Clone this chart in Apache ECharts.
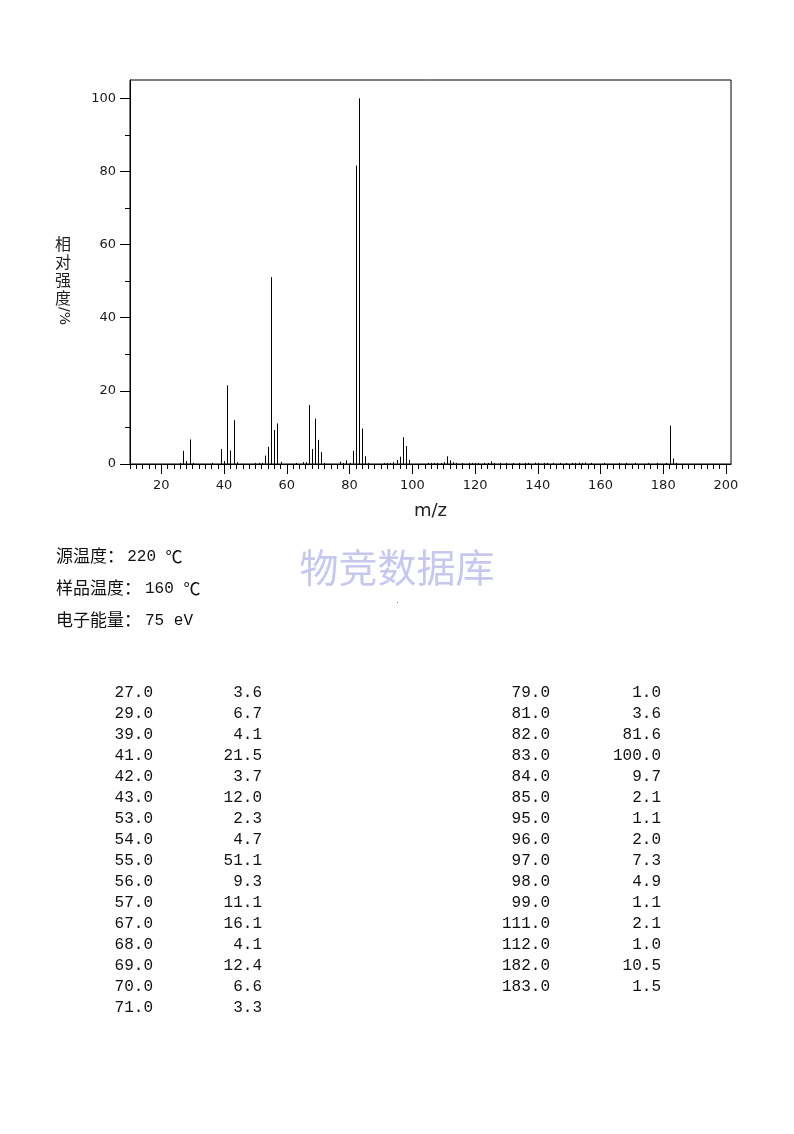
<!DOCTYPE html>
<html><head><meta charset="utf-8">
<script src="https://cdn.jsdelivr.net/npm/echarts@6/dist/echarts.min.js"></script>
<style>html,body{margin:0;padding:0;background:#fff}#c{width:794px;height:1134px}</style>
</head><body><div id="c"></div>
<script>
// Peak m/z values and relative intensities (%)
const mz = [26,27,28,29,30,36,39,40,41,42,43,44,50,51,52,53,54,55,56,57,58,63,65,66,67,68,69,70,71,72,
  77,78,79,80,81,82,83,84,85,86,91,92,93,94,95,96,97,98,99,105,106,107,108,109,110,111,112,113,114,
  116,118,119,120,121,123,124,125,126,128,130,132,134,136,137,139,140,142,143,145,147,149,151,152,153,
  154,155,157,161,166,168,171,175,178,181,182,183,184];
const intensity = [0.3,3.6,0.8,6.7,0.3,0.3,4.1,0.8,21.5,3.7,12.0,0.5,0.3,0.3,0.3,2.3,4.7,51.1,9.3,11.1,0.6,0.3,0.5,0.5,16.1,4.1,12.4,6.6,3.3,0.3,
  0.6,0.3,1.0,0.3,3.6,81.6,100.0,9.7,2.1,0.3,0.3,0.3,0.3,0.5,1.1,2.0,7.3,4.9,1.1,0.3,0.3,0.3,0.3,0.3,0.5,2.1,1.0,0.5,0.3,
  0.3,0.3,0.3,0.3,0.3,0.3,0.3,0.7,0.3,0.3,0.3,0.3,0.3,0.3,0.3,0.4,0.3,0.3,0.3,0.3,0.3,0.3,0.3,0.3,0.4,
  0.3,0.4,0.3,0.3,0.3,0.3,0.3,0.3,0.3,0.3,10.5,1.5,0.3];

const xMajorTicks = [20,40,60,80,100,120,140,160,180,200];
const xMinorTicks = []; for (let v = 10; v <= 200; v += 2) xMinorTicks.push(v);
const yMajorTicks = [0,20,40,60,80,100];
const yMinorTicks = [10,30,50,70,90];

const conditionNames  = ['源温度：','样品温度：','电子能量：'];
const conditionNumbers = ['220','160','75'];
const conditionUnits   = ['℃','℃','eV'];
const tableLeftMz  = ['27.0','29.0','39.0','41.0','42.0','43.0','53.0','54.0','55.0','56.0','57.0','67.0','68.0','69.0','70.0','71.0'];
const tableLeftInt = ['3.6','6.7','4.1','21.5','3.7','12.0','2.3','4.7','51.1','9.3','11.1','16.1','4.1','12.4','6.6','3.3'];
const tableRightMz  = ['79.0','81.0','82.0','83.0','84.0','85.0','95.0','96.0','97.0','98.0','99.0','111.0','112.0','182.0','183.0'];
const tableRightInt = ['1.0','3.6','81.6','100.0','9.7','2.1','1.1','2.0','7.3','4.9','1.1','2.1','1.0','10.5','1.5'];

const chart = echarts.init(document.getElementById('c'), null, {renderer:'canvas'});
const AX = '#000';
const labelFont = {fontFamily:'DejaVu Sans', fontSize:13, color:'#1a1a1a'};

const graphics = [];
// y axis name
graphics.push({type:'text', left:55, top:235, style:{text:'相\n对\n强\n度', font:'16px "Noto Sans CJK SC"', lineHeight:18, fill:'#222'}});
graphics.push({type:'text', x:71, y:307, rotation:-Math.PI/2, style:{text:'/%', font:'14px "DejaVu Sans"', fill:'#222'}});
// conditions
conditionNames.forEach((t,i)=>{
  const y = 556 + i*32;
  const x0 = 56 + t.length*17.8;
  graphics.push({type:'text', x:56, y:y, style:{text:t, font:'17px "Noto Sans CJK SC"', fill:'#111', verticalAlign:'middle'}});
  graphics.push({type:'text', x:x0, y:y+1, style:{text:conditionNumbers[i], font:'16px "Liberation Mono"', fill:'#111', verticalAlign:'middle'}});
  const ux = x0 + (conditionNumbers[i].length + 1)*9.6;
  const unitFont = conditionUnits[i] === '℃' ? '17px "Noto Sans CJK SC"' : '16px "Liberation Mono"';
  graphics.push({type:'text', x:ux, y:y+1, style:{text:conditionUnits[i], font:unitFont, fill:'#111', verticalAlign:'middle'}});
});
// watermark
graphics.push({type:'text', x:397, y:567, style:{text:'物竞数据库', font:'39px "Noto Sans CJK SC"', fill:'rgb(200,200,238)', align:'center', verticalAlign:'middle'}});
graphics.push({type:'rect', shape:{x:397, y:602, width:1, height:1}, style:{fill:'#777'}});
// table
const monoFont = '16px "Liberation Mono"';
function addCol(arr, xRight){
  arr.forEach((t,i)=>{
    graphics.push({type:'text', x:xRight, y:693 + i*21, style:{text:t, font:monoFont, fill:'#111', align:'right', verticalAlign:'middle'}});
  });
}
addCol(tableLeftMz, 153); addCol(tableLeftInt, 262);
addCol(tableRightMz, 550); addCol(tableRightInt, 661);

const option = {
  animation:false,
  backgroundColor:'#fff',
  grid:{left:130, top:80, width:601, height:384, show:true, borderColor:'#000', borderWidth:1, backgroundColor:'transparent'},
  xAxis:[
    {type:'value', min:10, max:201.6, position:'bottom',
     axisLine:{show:true, onZero:false, lineStyle:{color:AX}},
     axisTick:{show:true, customValues:xMinorTicks, length:5, lineStyle:{color:AX}},
     axisLabel:{show:false}, splitLine:{show:false}},
    {type:'value', min:10, max:201.6, position:'bottom',
     axisLine:{show:false, onZero:false},
     axisTick:{show:true, customValues:xMajorTicks, length:10, lineStyle:{color:AX}},
     axisLabel:Object.assign({customValues:xMajorTicks, margin:15}, labelFont),
     splitLine:{show:false},
     name:'m/z', nameLocation:'middle', nameGap:38,
     nameTextStyle:{fontFamily:'DejaVu Sans', fontSize:18, color:'#222'}}
  ],
  yAxis:[
    {type:'value', min:0, max:105, position:'left',
     axisLine:{show:true, onZero:false, lineStyle:{color:AX}},
     axisTick:{show:true, customValues:yMajorTicks, length:10, lineStyle:{color:AX}},
     axisLabel:Object.assign({customValues:yMajorTicks, margin:14}, labelFont),
     splitLine:{show:false}},
    {type:'value', min:0, max:105, position:'left',
     axisLine:{show:false, onZero:false},
     axisTick:{show:true, customValues:yMinorTicks, length:5, lineStyle:{color:AX}},
     axisLabel:{show:false}, splitLine:{show:false}}
  ],
  series:[{
    type:'custom', xAxisIndex:0, yAxisIndex:0,
    data: mz.map((m,i)=>[m, intensity[i]]),
    encode:{x:0, y:1},
    renderItem:function(params, api){
      const p0 = api.coord([api.value(0), 0]);
      const p1 = api.coord([api.value(0), api.value(1)]);
      const x = Math.round(p0[0]) + 0.5;
      return {type:'line', shape:{x1:x, y1:p0[1], x2:x, y2:p1[1]}, style:{stroke:'#000', lineWidth:1}};
    }
  }],
  graphic: graphics
};
chart.setOption(option);
</script>
</body></html>
